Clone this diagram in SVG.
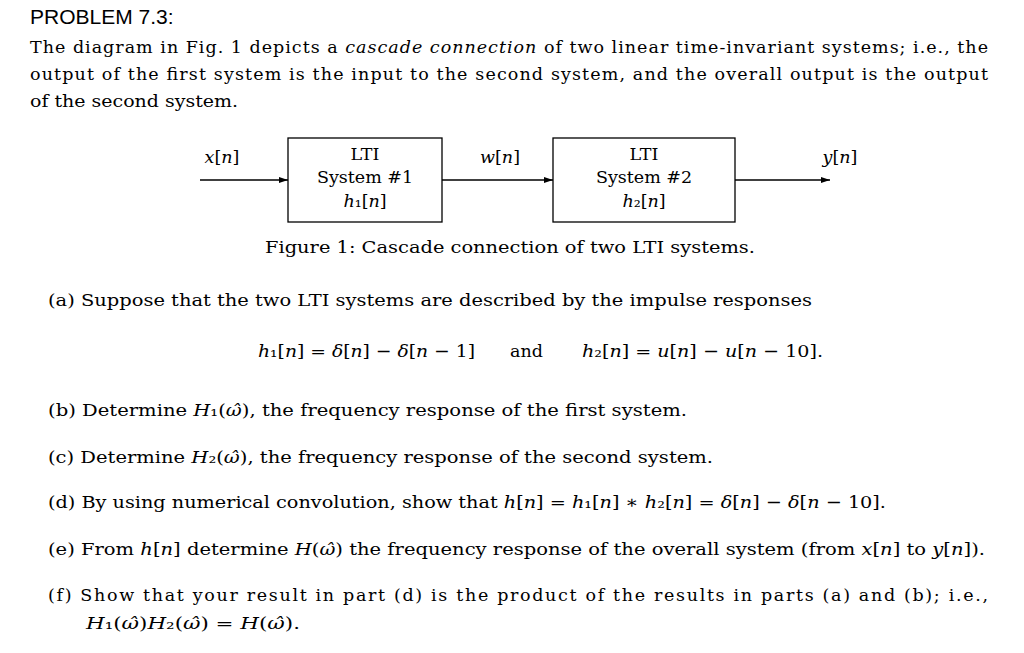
<svg xmlns="http://www.w3.org/2000/svg" width="1024" height="653" viewBox="0 0 1024 653">
<defs>
<marker id="ah" markerWidth="10" markerHeight="8" refX="9" refY="4" orient="auto" markerUnits="userSpaceOnUse"><path d="M0,1 L9,4 L0,7 Z" fill="#000"/></marker>
<style>
.t{font-family:"DejaVu Serif",serif;font-size:17.5px;fill:#000}
.i{font-style:italic}
.b{fill:#fff;stroke:#000;stroke-width:1.3}
.c{stroke:#000;stroke-width:1.3;fill:none}
</style>
</defs>
<rect width="1024" height="653" fill="#fff"/>
<text x="30" y="24" font-family="Liberation Sans,sans-serif" font-size="21" fill="#000">PROBLEM 7.3:</text>
<text class="t" x="30" y="53" textLength="958" lengthAdjust="spacing">The diagram in Fig. 1 depicts a <tspan class="i">cascade connection</tspan> of two linear time-invariant systems; i.e., the</text>
<text class="t" x="30" y="80" textLength="958" lengthAdjust="spacing">output of the first system is the input to the second system, and the overall output is the output</text>
<text class="t" x="30" y="107" textLength="208" lengthAdjust="spacingAndGlyphs">of the second system.</text>
<g id="node1"><rect class="b" x="288" y="138" width="154" height="84"/>
<text class="t" x="365" y="160" text-anchor="middle">LTI</text>
<text class="t" x="365" y="183" text-anchor="middle">System #1</text>
<text class="t" x="365" y="207" text-anchor="middle"><tspan class="i">h</tspan>₁[<tspan class="i">n</tspan>]</text></g>
<g id="node2"><rect class="b" x="553" y="138" width="182" height="84"/>
<text class="t" x="644" y="160" text-anchor="middle">LTI</text>
<text class="t" x="644" y="183" text-anchor="middle">System #2</text>
<text class="t" x="644" y="207" text-anchor="middle"><tspan class="i">h</tspan>₂[<tspan class="i">n</tspan>]</text></g>
<g id="connectors">
<line class="c" x1="200" y1="180" x2="288" y2="180" marker-end="url(#ah)"/>
<line class="c" x1="442" y1="180" x2="553" y2="180" marker-end="url(#ah)"/>
<line class="c" x1="735" y1="180" x2="830" y2="180" marker-end="url(#ah)"/>
</g>
<text class="t" x="222" y="163" text-anchor="middle"><tspan class="i">x</tspan>[<tspan class="i">n</tspan>]</text>
<text class="t" x="500" y="163" text-anchor="middle"><tspan class="i">w</tspan>[<tspan class="i">n</tspan>]</text>
<text class="t" x="840" y="163" text-anchor="middle"><tspan class="i">y</tspan>[<tspan class="i">n</tspan>]</text>
<text class="t" x="265" y="253" textLength="490" lengthAdjust="spacingAndGlyphs">Figure 1: Cascade connection of two LTI systems.</text>
<text class="t" x="48" y="306" textLength="764" lengthAdjust="spacingAndGlyphs">(a) Suppose that the two LTI systems are described by the impulse responses</text>
<text class="t" x="258" y="357" textLength="217" lengthAdjust="spacingAndGlyphs"><tspan class="i">h</tspan>₁[<tspan class="i">n</tspan>] = <tspan class="i">δ</tspan>[<tspan class="i">n</tspan>] − <tspan class="i">δ</tspan>[<tspan class="i">n</tspan> − 1]</text>
<text class="t" x="510" y="357">and</text>
<text class="t" x="582" y="357" textLength="241" lengthAdjust="spacingAndGlyphs"><tspan class="i">h</tspan>₂[<tspan class="i">n</tspan>] = <tspan class="i">u</tspan>[<tspan class="i">n</tspan>] − <tspan class="i">u</tspan>[<tspan class="i">n</tspan> − 10].</text>
<text class="t" x="48" y="416" textLength="639" lengthAdjust="spacingAndGlyphs">(b) Determine <tspan class="i">H</tspan>₁(<tspan class="i">ω̂</tspan>), the frequency response of the first system.</text>
<text class="t" x="48" y="463" textLength="665" lengthAdjust="spacingAndGlyphs">(c) Determine <tspan class="i">H</tspan>₂(<tspan class="i">ω̂</tspan>), the frequency response of the second system.</text>
<text class="t" x="48" y="508" textLength="838" lengthAdjust="spacingAndGlyphs">(d) By using numerical convolution, show that <tspan class="i">h</tspan>[<tspan class="i">n</tspan>] = <tspan class="i">h</tspan>₁[<tspan class="i">n</tspan>] ∗ <tspan class="i">h</tspan>₂[<tspan class="i">n</tspan>] = <tspan class="i">δ</tspan>[<tspan class="i">n</tspan>] − <tspan class="i">δ</tspan>[<tspan class="i">n</tspan> − 10].</text>
<text class="t" x="48" y="555" textLength="937" lengthAdjust="spacingAndGlyphs">(e) From <tspan class="i">h</tspan>[<tspan class="i">n</tspan>] determine <tspan class="i">H</tspan>(<tspan class="i">ω̂</tspan>) the frequency response of the overall system (from <tspan class="i">x</tspan>[<tspan class="i">n</tspan>] to <tspan class="i">y</tspan>[<tspan class="i">n</tspan>]).</text>
<text class="t" x="48" y="601" textLength="940" lengthAdjust="spacing">(f) Show that your result in part (d) is the product of the results in parts (a) and (b); i.e.,</text>
<text class="t" x="86" y="629" textLength="214" lengthAdjust="spacingAndGlyphs"><tspan class="i">H</tspan>₁(<tspan class="i">ω̂</tspan>)<tspan class="i">H</tspan>₂(<tspan class="i">ω̂</tspan>) = <tspan class="i">H</tspan>(<tspan class="i">ω̂</tspan>).</text>
</svg>
